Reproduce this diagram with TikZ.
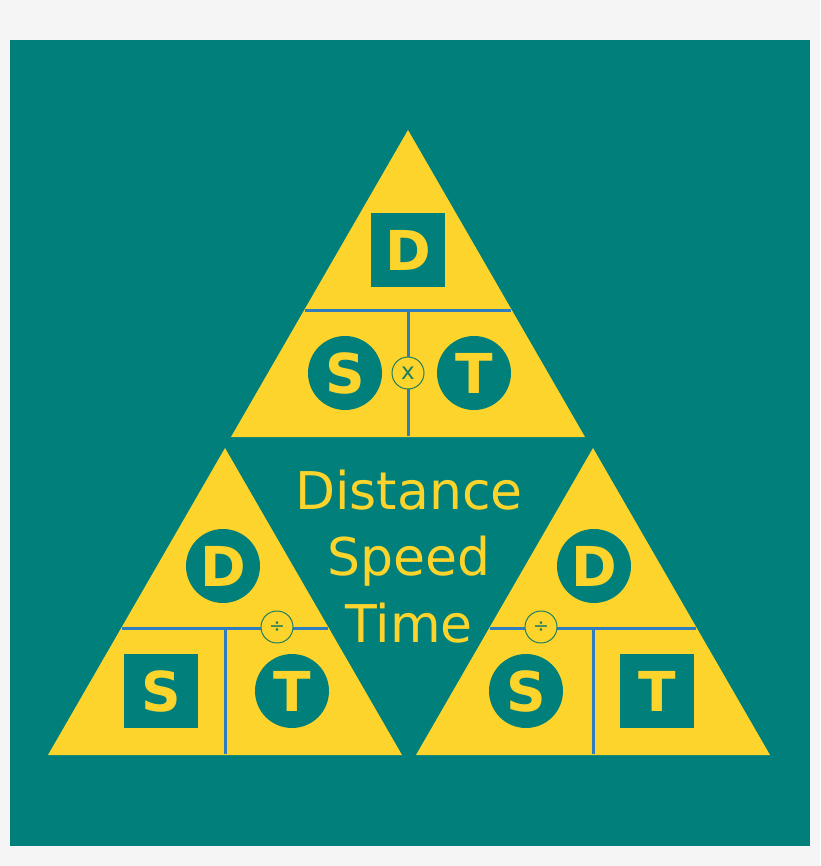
\documentclass[tikz,border=0pt]{standalone}
\usepackage{fontspec}
\setmainfont{DejaVu Sans}
\definecolor{pagegray}{RGB}{245,245,245}
\definecolor{bgteal}{RGB}{0,127,123}
\definecolor{dstyellow}{RGB}{253,212,43}
\definecolor{divblue}{RGB}{47,125,190}
\definecolor{opgreen}{RGB}{30,125,95}

\begin{document}
\begin{tikzpicture}[x=1pt, y=-1pt,
  letterbox/.style={rectangle, fill=bgteal, minimum size=74pt, inner sep=0pt, text=dstyellow, font=\fontsize{55}{55}\selectfont\bfseries},
  letterdot/.style={letterbox, circle},
  opsign/.style={circle, draw=opgreen, line width=1pt, fill=dstyellow, minimum size=32pt, inner sep=0pt, text=opgreen, font=\fontsize{23}{23}\selectfont},
  word/.style={anchor=base, text=dstyellow, font=\fontsize{52}{52}\selectfont},
  divider/.style={divblue, line width=3pt}]
\fill[pagegray] (0,0) rectangle (820,866);
\fill[bgteal] (10,40) rectangle (810,846);

\foreach \ax/\ay in {408/130,225/448,593/448}
{
\fill[dstyellow] (\ax,\ay) -- ({\ax-177},{\ay+307}) -- ({\ax+177},{\ay+307}) -- cycle;
\draw[divider] ({\ax-103},{\ay+180}) -- ({\ax+103},{\ay+180});
\draw[divider] (\ax,{\ay+180}) -- (\ax,{\ay+306});
}

% top
\node[letterbox] (D1) at (408,250) {D};
\node[letterdot] (S1) at (345,373) {S};
\node[letterdot] (T1) at (474,373) {T};
\node[opsign] (x1) at (408,373) {x};
% bottom left
\node[letterdot] (D2) at (223,566) {D};
\node[letterbox] (S2) at (161,691) {S};
\node[letterdot] (T2) at (292,691) {T};
\node[opsign, font=\fontsize{19}{19}\selectfont] (div2) at (277,627) {÷};
% bottom right
\node[letterdot] (D3) at (594,566) {D};
\node[letterdot] (S3) at (526,691) {S};
\node[letterbox] (T3) at (657,691) {T};
\node[opsign, font=\fontsize{19}{19}\selectfont] (div3) at (541,627) {÷};

\node[word] (dist) at (409,509) {Distance};
\node[word] (spd) at (409,575) {Speed};
\node[word] (tim) at (409,642) {Time};
\end{tikzpicture}
\end{document}
